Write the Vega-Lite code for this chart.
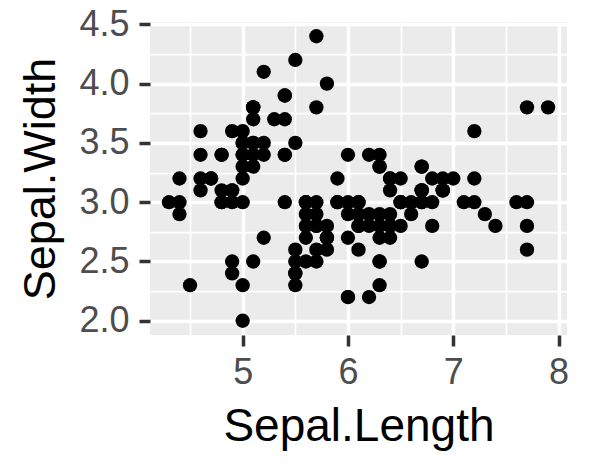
{
  "$schema": "https://vega.github.io/schema/vega-lite/v6.json",
  "width": 417,
  "height": 313,
  "autosize": {"type": "none"},
  "padding": {"left": 150, "top": 22, "right": 23, "bottom": 137},
  "background": "white",
  "config": {
    "view": {"fill": "#EBEBEB", "stroke": null},
    "font": "Liberation Sans"
  },
  "data": {
    "values": [
      {"SepalLength": 5.1, "SepalWidth": 3.5}, {"SepalLength": 4.9, "SepalWidth": 3.0}, {"SepalLength": 4.7, "SepalWidth": 3.2}, {"SepalLength": 4.6, "SepalWidth": 3.1}, {"SepalLength": 5.0, "SepalWidth": 3.6},
      {"SepalLength": 5.4, "SepalWidth": 3.9}, {"SepalLength": 4.6, "SepalWidth": 3.4}, {"SepalLength": 5.0, "SepalWidth": 3.4}, {"SepalLength": 4.4, "SepalWidth": 2.9}, {"SepalLength": 4.9, "SepalWidth": 3.1},
      {"SepalLength": 5.4, "SepalWidth": 3.7}, {"SepalLength": 4.8, "SepalWidth": 3.4}, {"SepalLength": 4.8, "SepalWidth": 3.0}, {"SepalLength": 4.3, "SepalWidth": 3.0}, {"SepalLength": 5.8, "SepalWidth": 4.0},
      {"SepalLength": 5.7, "SepalWidth": 4.4}, {"SepalLength": 5.4, "SepalWidth": 3.9}, {"SepalLength": 5.1, "SepalWidth": 3.5}, {"SepalLength": 5.7, "SepalWidth": 3.8}, {"SepalLength": 5.1, "SepalWidth": 3.8},
      {"SepalLength": 5.4, "SepalWidth": 3.4}, {"SepalLength": 5.1, "SepalWidth": 3.7}, {"SepalLength": 4.6, "SepalWidth": 3.6}, {"SepalLength": 5.1, "SepalWidth": 3.3}, {"SepalLength": 4.8, "SepalWidth": 3.4},
      {"SepalLength": 5.0, "SepalWidth": 3.0}, {"SepalLength": 5.0, "SepalWidth": 3.4}, {"SepalLength": 5.2, "SepalWidth": 3.5}, {"SepalLength": 5.2, "SepalWidth": 3.4}, {"SepalLength": 4.7, "SepalWidth": 3.2},
      {"SepalLength": 4.8, "SepalWidth": 3.1}, {"SepalLength": 5.4, "SepalWidth": 3.4}, {"SepalLength": 5.2, "SepalWidth": 4.1}, {"SepalLength": 5.5, "SepalWidth": 4.2}, {"SepalLength": 4.9, "SepalWidth": 3.1},
      {"SepalLength": 5.0, "SepalWidth": 3.2}, {"SepalLength": 5.5, "SepalWidth": 3.5}, {"SepalLength": 4.9, "SepalWidth": 3.6}, {"SepalLength": 4.4, "SepalWidth": 3.0}, {"SepalLength": 5.1, "SepalWidth": 3.4},
      {"SepalLength": 5.0, "SepalWidth": 3.5}, {"SepalLength": 4.5, "SepalWidth": 2.3}, {"SepalLength": 4.4, "SepalWidth": 3.2}, {"SepalLength": 5.0, "SepalWidth": 3.5}, {"SepalLength": 5.1, "SepalWidth": 3.8},
      {"SepalLength": 4.8, "SepalWidth": 3.0}, {"SepalLength": 5.1, "SepalWidth": 3.8}, {"SepalLength": 4.6, "SepalWidth": 3.2}, {"SepalLength": 5.3, "SepalWidth": 3.7}, {"SepalLength": 5.0, "SepalWidth": 3.3},
      {"SepalLength": 7.0, "SepalWidth": 3.2}, {"SepalLength": 6.4, "SepalWidth": 3.2}, {"SepalLength": 6.9, "SepalWidth": 3.1}, {"SepalLength": 5.5, "SepalWidth": 2.3}, {"SepalLength": 6.5, "SepalWidth": 2.8},
      {"SepalLength": 5.7, "SepalWidth": 2.8}, {"SepalLength": 6.3, "SepalWidth": 3.3}, {"SepalLength": 4.9, "SepalWidth": 2.4}, {"SepalLength": 6.6, "SepalWidth": 2.9}, {"SepalLength": 5.2, "SepalWidth": 2.7},
      {"SepalLength": 5.0, "SepalWidth": 2.0}, {"SepalLength": 5.9, "SepalWidth": 3.0}, {"SepalLength": 6.0, "SepalWidth": 2.2}, {"SepalLength": 6.1, "SepalWidth": 2.9}, {"SepalLength": 5.6, "SepalWidth": 2.9},
      {"SepalLength": 6.7, "SepalWidth": 3.1}, {"SepalLength": 5.6, "SepalWidth": 3.0}, {"SepalLength": 5.8, "SepalWidth": 2.7}, {"SepalLength": 6.2, "SepalWidth": 2.2}, {"SepalLength": 5.6, "SepalWidth": 2.5},
      {"SepalLength": 5.9, "SepalWidth": 3.2}, {"SepalLength": 6.1, "SepalWidth": 2.8}, {"SepalLength": 6.3, "SepalWidth": 2.5}, {"SepalLength": 6.1, "SepalWidth": 2.8}, {"SepalLength": 6.4, "SepalWidth": 2.9},
      {"SepalLength": 6.6, "SepalWidth": 3.0}, {"SepalLength": 6.8, "SepalWidth": 2.8}, {"SepalLength": 6.7, "SepalWidth": 3.0}, {"SepalLength": 6.0, "SepalWidth": 2.9}, {"SepalLength": 5.7, "SepalWidth": 2.6},
      {"SepalLength": 5.5, "SepalWidth": 2.4}, {"SepalLength": 5.5, "SepalWidth": 2.4}, {"SepalLength": 5.8, "SepalWidth": 2.7}, {"SepalLength": 6.0, "SepalWidth": 2.7}, {"SepalLength": 5.4, "SepalWidth": 3.0},
      {"SepalLength": 6.0, "SepalWidth": 3.4}, {"SepalLength": 6.7, "SepalWidth": 3.1}, {"SepalLength": 6.3, "SepalWidth": 2.3}, {"SepalLength": 5.6, "SepalWidth": 3.0}, {"SepalLength": 5.5, "SepalWidth": 2.5},
      {"SepalLength": 5.5, "SepalWidth": 2.6}, {"SepalLength": 6.1, "SepalWidth": 3.0}, {"SepalLength": 5.8, "SepalWidth": 2.6}, {"SepalLength": 5.0, "SepalWidth": 2.3}, {"SepalLength": 5.6, "SepalWidth": 2.7},
      {"SepalLength": 5.7, "SepalWidth": 3.0}, {"SepalLength": 5.7, "SepalWidth": 2.9}, {"SepalLength": 6.2, "SepalWidth": 2.9}, {"SepalLength": 5.1, "SepalWidth": 2.5}, {"SepalLength": 5.7, "SepalWidth": 2.8},
      {"SepalLength": 6.3, "SepalWidth": 3.3}, {"SepalLength": 5.8, "SepalWidth": 2.7}, {"SepalLength": 7.1, "SepalWidth": 3.0}, {"SepalLength": 6.3, "SepalWidth": 2.9}, {"SepalLength": 6.5, "SepalWidth": 3.0},
      {"SepalLength": 7.6, "SepalWidth": 3.0}, {"SepalLength": 4.9, "SepalWidth": 2.5}, {"SepalLength": 7.3, "SepalWidth": 2.9}, {"SepalLength": 6.7, "SepalWidth": 2.5}, {"SepalLength": 7.2, "SepalWidth": 3.6},
      {"SepalLength": 6.5, "SepalWidth": 3.2}, {"SepalLength": 6.4, "SepalWidth": 2.7}, {"SepalLength": 6.8, "SepalWidth": 3.0}, {"SepalLength": 5.7, "SepalWidth": 2.5}, {"SepalLength": 5.8, "SepalWidth": 2.8},
      {"SepalLength": 6.4, "SepalWidth": 3.2}, {"SepalLength": 6.5, "SepalWidth": 3.0}, {"SepalLength": 7.7, "SepalWidth": 3.8}, {"SepalLength": 7.7, "SepalWidth": 2.6}, {"SepalLength": 6.0, "SepalWidth": 2.2},
      {"SepalLength": 6.9, "SepalWidth": 3.2}, {"SepalLength": 5.6, "SepalWidth": 2.8}, {"SepalLength": 7.7, "SepalWidth": 2.8}, {"SepalLength": 6.3, "SepalWidth": 2.7}, {"SepalLength": 6.7, "SepalWidth": 3.3},
      {"SepalLength": 7.2, "SepalWidth": 3.2}, {"SepalLength": 6.2, "SepalWidth": 2.8}, {"SepalLength": 6.1, "SepalWidth": 3.0}, {"SepalLength": 6.4, "SepalWidth": 2.8}, {"SepalLength": 7.2, "SepalWidth": 3.0},
      {"SepalLength": 7.4, "SepalWidth": 2.8}, {"SepalLength": 7.9, "SepalWidth": 3.8}, {"SepalLength": 6.4, "SepalWidth": 2.8}, {"SepalLength": 6.3, "SepalWidth": 2.8}, {"SepalLength": 6.1, "SepalWidth": 2.6},
      {"SepalLength": 7.7, "SepalWidth": 3.0}, {"SepalLength": 6.3, "SepalWidth": 3.4}, {"SepalLength": 6.4, "SepalWidth": 3.1}, {"SepalLength": 6.0, "SepalWidth": 3.0}, {"SepalLength": 6.9, "SepalWidth": 3.1},
      {"SepalLength": 6.7, "SepalWidth": 3.1}, {"SepalLength": 6.9, "SepalWidth": 3.1}, {"SepalLength": 5.8, "SepalWidth": 2.7}, {"SepalLength": 6.8, "SepalWidth": 3.2}, {"SepalLength": 6.7, "SepalWidth": 3.3},
      {"SepalLength": 6.7, "SepalWidth": 3.0}, {"SepalLength": 6.3, "SepalWidth": 2.5}, {"SepalLength": 6.5, "SepalWidth": 3.0}, {"SepalLength": 6.2, "SepalWidth": 3.4}, {"SepalLength": 5.9, "SepalWidth": 3.0}
    ]
  },
  "mark": {"type": "circle", "size": 205, "color": "black", "opacity": 1},
  "encoding": {
    "x": {
      "field": "SepalLength",
      "type": "quantitative",
      "scale": {"domain": [4.12, 8.08], "nice": false, "zero": false},
      "axis": {
        "title": "Sepal.Length",
        "values": [4.5, 5, 5.5, 6, 6.5, 7, 7.5, 8],
        "labelExpr": "datum.value % 1 === 0 ? format(datum.value, 'd') : ''",
        "labelFlush": false,
        "labelOverlap": false,
        "domain": false,
        "grid": true,
        "gridColor": "white",
        "gridOpacity": 1,
        "gridWidth": {"condition": {"test": "datum.value % 1 === 0", "value": 3.5}, "value": 1.75},
        "tickOpacity": {"condition": {"test": "datum.value % 1 === 0", "value": 1}, "value": 0},
        "tickColor": "#333333",
        "tickSize": 11,
        "tickWidth": 3.5,
        "labelColor": "#4D4D4D",
        "labelFontSize": 36,
        "labelPadding": 9,
        "titleFontSize": 46,
        "titleFontWeight": "normal",
        "titleColor": "black",
        "titlePadding": 14
      }
    },
    "y": {
      "field": "SepalWidth",
      "type": "quantitative",
      "scale": {"domain": [1.88, 4.52], "nice": false, "zero": false},
      "axis": {
        "title": "Sepal.Width",
        "values": [2, 2.25, 2.5, 2.75, 3, 3.25, 3.5, 3.75, 4, 4.25, 4.5],
        "labelExpr": "(datum.value * 2) % 1 === 0 ? format(datum.value, '.1f') : ''",
        "labelOverlap": false,
        "labelFlush": false,
        "domain": false,
        "grid": true,
        "gridColor": "white",
        "gridOpacity": 1,
        "gridWidth": {"condition": {"test": "(datum.value * 2) % 1 === 0", "value": 3.5}, "value": 1.75},
        "tickOpacity": {"condition": {"test": "(datum.value * 2) % 1 === 0", "value": 1}, "value": 0},
        "tickColor": "#333333",
        "tickSize": 11,
        "tickWidth": 3.5,
        "labelColor": "#4D4D4D",
        "labelFontSize": 36,
        "labelPadding": 10,
        "titleFontSize": 45,
        "titleFontWeight": "normal",
        "titleColor": "black",
        "titlePadding": 15
      }
    }
  }
}
